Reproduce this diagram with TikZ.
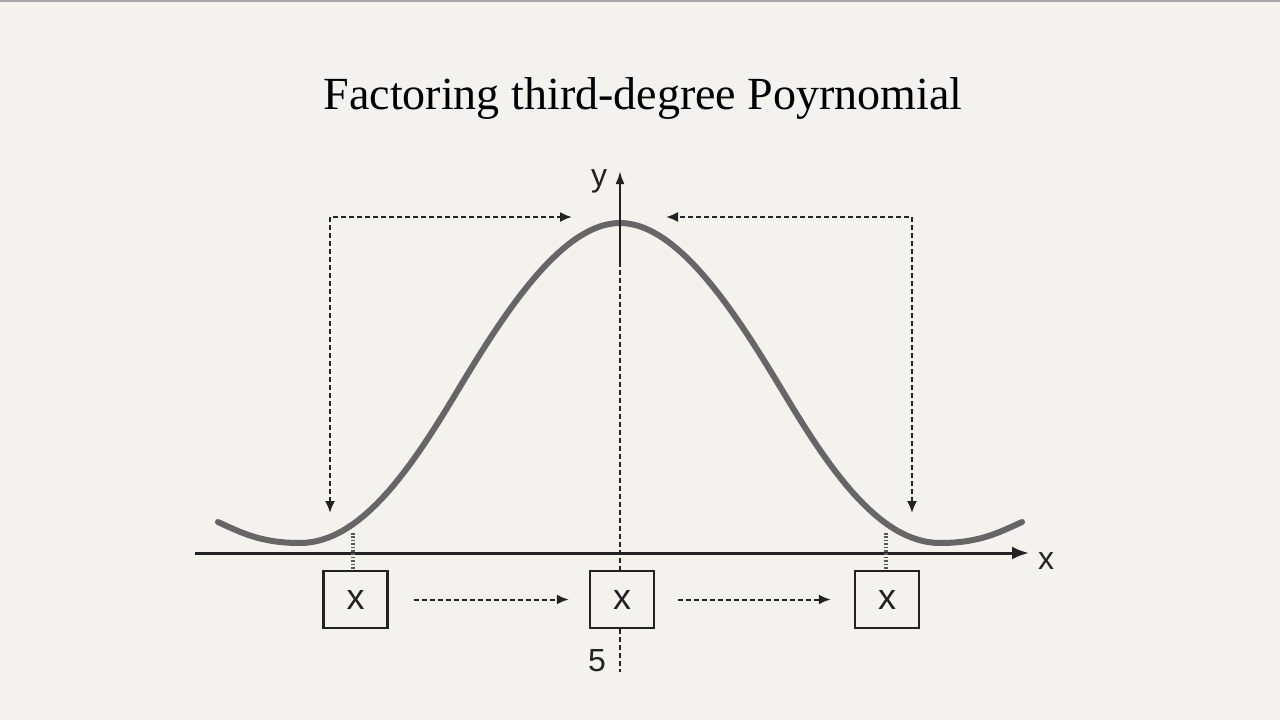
\documentclass[tikz,border=0pt]{standalone}
\usepackage{fontspec}
\setmainfont{Liberation Serif}
\setsansfont{Liberation Sans}
\usetikzlibrary{arrows.meta}
\definecolor{bg}{HTML}{F3F2EE}
\definecolor{ink}{HTML}{222222}
\definecolor{curvecol}{HTML}{666666}
\begin{document}
\begin{tikzpicture}[x=1pt,y=-1pt,
  axisln/.style={draw=ink,line width=3pt},
  dashln/.style={draw=ink,line width=2pt,dash pattern=on 5pt off 3pt},
  dotln/.style={draw=ink!75,line width=3.5pt,dash pattern=on 1.6pt off 1.8pt},
  xbox/.style={draw=ink,line width=2.4pt,minimum width=64pt,minimum height=57pt,inner sep=0pt,font=\sffamily\fontsize{36}{40}\selectfont,text=ink},
  lbl/.style={font=\sffamily\fontsize{32}{34}\selectfont,text=ink,inner sep=0pt},
  curvestyle/.style={draw=curvecol,line width=6pt,line cap=round},
  tip/.tip={Latex[length=12pt,width=10pt]}
]
\fill[bg] (0,0) rectangle (1280,720);
\useasboundingbox (0,0) rectangle (1280,720);
\draw[gray!70,line width=1.5pt] (0,0.75) -- (1280,0.75);

% title
\node[font=\fontsize{46}{50}\selectfont,text=black,anchor=base,inner sep=0pt] (title) at (643,109) {Factoring third-degree Poyrnomial};

% boxes
\node[xbox] (left) at (355.5,599.5) {x};
\node[xbox] (mid) at (622,599.5) {x};
\node[xbox] (right) at (887,599.5) {x};

% curve
\draw[curvestyle] (218,522) .. controls (240,532) and (260,543) .. (300,543)
  .. controls (360,543) and (410,470) .. (455,395)
  .. controls (500,320) and (560,223) .. (620,223)
  .. controls (680,223) and (740,320) .. (785,395)
  .. controls (830,470) and (880,543) .. (940,543)
  .. controls (980,543) and (1000,532) .. (1022,522);

% x axis
\coordinate (xs) at (195,553);
\coordinate (xe) at (1029,553);
\draw[axisln,-{Latex[length=17pt,width=13pt]}] (xs) -- (xe);
\node[lbl,anchor=west] (xlab) at (1038,561) {x};

% y axis
\coordinate (ytop) at (620,171);
\coordinate (ysolid) at (620,262);
\coordinate (yax) at (620,553);
\coordinate (ybot) at (620,672);
\draw[draw=ink,line width=2.4pt,-{Latex[length=13pt,width=9pt]}] (ysolid) -- (ytop);
\draw[dashln] (ysolid) -- (yax) -- (yax |- mid.north);
\draw[dashln] (yax |- mid.south) -- (ybot);
\node[lbl] (ylab) at (599,181) {y};
\node[lbl] (five) at (597,661) {5};

% dotted drop lines
\coordinate (lt) at (353,533);
\coordinate (rt) at (886,533);
\draw[dotln] (lt) -- (lt |- left.north);
\draw[dotln] (rt) -- (rt |- right.north);

% horizontal arrows between boxes
\draw[dashln,-{tip}] ([xshift=25pt]left.east) -- ([xshift=-20pt]mid.west);
\draw[dashln,-{tip}] ([xshift=23pt]mid.east) -- ([xshift=-23pt]right.west);

% top bracket arrows
\coordinate (a1) at (330,513);
\coordinate (a2) at (330,217);
\coordinate (a3) at (572,217);
\draw[dashln,{tip}-{tip}] (a1) -- (a2) -- (a3);
\coordinate (b1) at (912,513);
\coordinate (b2) at (912,217);
\coordinate (b3) at (666,217);
\draw[dashln,{tip}-{tip}] (b1) -- (b2) -- (b3);
\end{tikzpicture}
\end{document}
